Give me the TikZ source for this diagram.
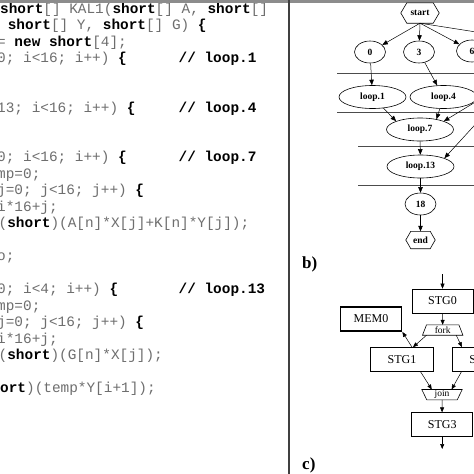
\documentclass[tikz,border=0pt]{standalone}
\usepackage{fontspec}
\setmainfont{Liberation Serif}
\setmonofont{Liberation Mono}
\usetikzlibrary{shapes.geometric,arrows.meta}
\definecolor{codegray}{HTML}{6E6E6E}
\newcommand{\kw}[1]{{\bfseries\color{black}#1}}
\begin{document}
\begin{tikzpicture}[x=1pt,y=-1pt,
  code/.style={anchor=base west,inner sep=0,font=\ttfamily\fontsize{14.4}{16}\selectfont,text=codegray},
  gnode/.style={draw,ellipse,inner sep=0,font=\bfseries\fontsize{9.5}{10}\selectfont,line width=0.6pt},
  smalln/.style={gnode,minimum width=31pt,minimum height=22pt},
  loopn/.style={gnode,minimum width=67pt,minimum height=23pt},
  hexn/.style={inner sep=0,font=\bfseries\fontsize{9.5}{10}\selectfont},
  hexline/.style={line width=0.6pt},
  garr/.style={-{Triangle[length=5.5pt,width=4.5pt]},line width=0.5pt},
  carr/.style={-{Triangle[length=5pt,width=4pt]},line width=0.5pt},
  sepline/.style={line width=0.7pt,draw=black!70},
  stgbox/.style={draw,rectangle,inner sep=0,minimum width=61pt,minimum height=24pt,font=\fontsize{12}{12}\selectfont,line width=0.6pt},
  trap/.style={inner sep=0,minimum width=40pt,minimum height=10pt,font=\fontsize{9.5}{9.5}\selectfont},
  panellabel/.style={anchor=base west,inner sep=0,font=\bfseries\fontsize{17}{17}\selectfont},
]
\useasboundingbox (0,0) rectangle (474,474);
\fill[white] (0,0) rectangle (474,474);

% ---------------- code panel ----------------
\begin{scope}
\clip (0,0) rectangle (288.4,474);
\node[code] (c0) at (0,13) {\kw{short}[]~KAL1(\kw{short}[]~A,~\kw{short}[]};
\node[code] (c1) at (-1,29.5) {~\kw{short}[]~Y,~\kw{short}[]~G)~\kw{\{}};
\node[code] (c2) at (-3,46) {=~\kw{new}~\kw{short}[4];};
\node[code] (c3) at (-3,62.5) {0;~i<16;~i++)~\kw{\{}~~~~~~\kw{//~loop.1}};
\node[code] (c6) at (-3,112) {13;~i<16;~i++)~\kw{\{}~~~~~\kw{//~loop.4}};
\node[code] (c9) at (-3,161.5) {0;~i<16;~i++)~\kw{\{}~~~~~~\kw{//~loop.7}};
\node[code] (c10) at (-3,178) {mp=0;};
\node[code] (c11) at (-3,194.5) {j=0;~j<16;~j++)~\kw{\{}};
\node[code] (c12) at (-3,211) {i*16+j;};
\node[code] (c13) at (-1.5,227.5) {(\kw{short})(A[n]*X[j]+K[n]*Y[j]);};
\node[code] (c15) at (-3,260.5) {o;};
\node[code] (c17) at (-3,293.5) {0;~i<4;~i++)~\kw{\{}~~~~~~~\kw{//~loop.13}};
\node[code] (c18) at (-3,310) {mp=0;};
\node[code] (c19) at (-3,326.5) {j=0;~j<16;~j++)~\kw{\{}};
\node[code] (c20) at (-3,343) {i*16+j;};
\node[code] (c21) at (-1.5,359.5) {(\kw{short})(G[n]*X[j]);};
\node[code] (c23) at (0,392.5) {\kw{ort})(temp*Y[i+1]);};
\end{scope}

% frame
\fill[black!45] (0,0) rectangle (474,2.5);
\draw[line width=1.2pt,black!75] (289,0) -- (289,474);

% ---------------- panel b ----------------
\begin{scope}
\clip (289.6,2.5) rectangle (474,474);
\draw[sepline] (337,73) -- (474,73);
\draw[sepline] (337,112.5) -- (474,112.5);
\draw[sepline] (358,146) -- (474,146);
\draw[sepline] (358,185.5) -- (474,185.5);

\node[hexn,minimum width=38pt,minimum height=20pt] (start) at (420,13) {start};
\draw[hexline] (start.west) -- ([xshift=6pt]start.north west) -- ([xshift=-6pt]start.north east) -- (start.east) -- ([xshift=-6pt]start.south east) -- ([xshift=6pt]start.south west) -- cycle;

\node[smalln] (n0) at (370,52) {0};
\node[smalln] (n3) at (419,52) {3};
\node[smalln] (n6) at (472,51) {6};
\coordinate (n9) at (540,42);

\node[loopn] (loop1) at (372.5,97) {loop.1};
\node[loopn] (loop4) at (443.5,97) {loop.4};
\node[loopn] (loop7) at (420,129.5) {loop.7};
\node[loopn] (loop13) at (420.5,166.5) {loop.13};
\node[smalln] (n18) at (420.5,204) {18};
\node[hexn,minimum width=29pt,minimum height=17pt] (end) at (420.5,240) {end};
\draw[hexline] (end.west) -- ([xshift=5pt]end.north west) -- ([xshift=-5pt]end.north east) -- (end.east) -- ([xshift=-5pt]end.south east) -- ([xshift=5pt]end.south west) -- cycle;

\coordinate (r1) at (514,78.5);
\coordinate (r2) at (503.8,93.3);

\draw[garr] (start.south) -- (n0);
\draw[garr] (start.south) -- (n3);
\draw[garr] (start.south) -- (n6);
\draw[line width=0.5pt] (start.south) -- (n9);
\draw[garr] (n0) -- (loop1);
\draw[garr] (n3) -- (loop4);
\draw[garr] (loop1) -- (loop7.north west);
\draw[garr] (loop4) -- (loop7.32);
\draw[garr] (r1) -- (loop7.north east);
\draw[garr] (loop7) -- (loop13);
\draw[garr] (r2) -- (loop13.north east);
\draw[garr] (loop13) -- (n18);
\draw[garr] (n18) -- (end);

\node[panellabel] (lb) at (302,268) {b)};

% ---------------- panel c ----------------
\coordinate (ctop) at (442.5,274);
\node[stgbox] (stg0) at (442.5,301) {STG0};
\node[stgbox,line width=1.8pt] (mem0) at (371,319) {MEM0};
\node[trap] (fork) at (442.7,330) {fork};
\draw[line width=0.6pt] (fork.south west) -- ([xshift=4pt]fork.north west) -- ([xshift=-4pt]fork.north east) -- (fork.south east) -- cycle;
\node[stgbox,minimum width=62.6pt] (stg1) at (402,359.5) {STG1};
\node[stgbox,minimum width=62.6pt] (stg2) at (483.6,359.5) {STG2};
\node[trap] (join) at (442,394.7) {join};
\draw[line width=0.6pt] (join.north west) -- ([xshift=5pt]join.south west) -- ([xshift=-5pt]join.south east) -- (join.north east) -- cycle;
\node[stgbox] (stg3) at (442.2,424.7) {STG3};
\coordinate (cbot) at (442.2,449);

\draw[carr] (ctop) -- (stg0);
\draw[carr] (stg0) -- (fork);
\draw[carr] ([xshift=4pt]fork.south west) -- ([xshift=11pt]stg1.north);
\draw[carr] ([xshift=-6.7pt]fork.south east) -- ([xshift=10pt]stg2.north west);
\draw[carr] ([xshift=10pt]stg1.north) -- (mem0.south east);
\draw[carr] ([xshift=-13pt]stg1.south east) -- ([xshift=10pt]join.north west);
\draw[carr] ([xshift=9.4pt]stg2.south west) -- ([xshift=-10.6pt]join.north east);
\draw[carr] (join) -- (stg3);
\draw[carr] (stg3) -- (cbot);

\node[panellabel] (lc) at (302,469) {c)};
\end{scope}
\end{tikzpicture}
\end{document}
